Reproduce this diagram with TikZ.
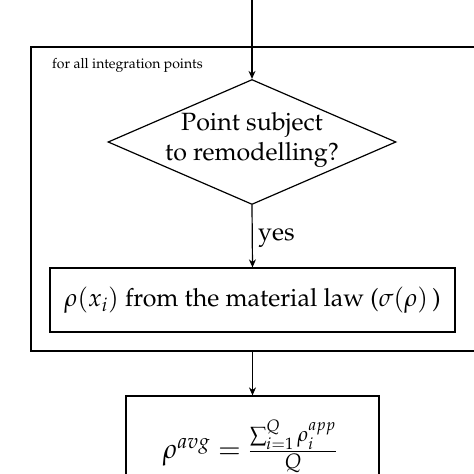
\documentclass[tikz,border=0pt]{standalone}
\usepackage[T1]{fontenc}
\usepackage{mathpazo}
\usetikzlibrary{shapes.geometric,arrows.meta,calc}
\tikzset{
  flowline/.style={line width=1.2pt},
  flowarrow/.style={flowline,-{Stealth[length=8pt,width=7pt]}},
  boxnode/.style={draw,flowline,rectangle,inner sep=0pt},
  bigtext/.style={font=\fontsize{25}{30}\selectfont},
  formulatext/.style={font=\fontsize{27.5}{33}\selectfont},
  smalltext/.style={font=\fontsize{14}{17}\selectfont},
}
\begin{document}
\begin{tikzpicture}[x=1pt,y=1pt]
\useasboundingbox (0,0) rectangle (474,474);
\begin{scope}
\clip (0,0) rectangle (474,474);
\coordinate (top) at (252,480);
\node[boxnode,minimum width=459pt,minimum height=304pt] (outer) at (260.5,275) {};
\node[smalltext,anchor=base west,inner sep=0pt] (lab) at (52,405) {for all integration points};
\node[diamond,draw,flowline,shape aspect=2.3,minimum width=288pt,minimum height=125pt,inner sep=0pt] (dia) at (252,332) {};
\node[bigtext,align=center,inner sep=0pt] (diatext) at (252,334) {Point subject\\to remodelling?};
\node[boxnode,bigtext,minimum width=405pt,minimum height=64pt] (law) at (252.5,174) {$\rho(x_i)$ from the material law ($\sigma(\rho)$\,)};
\node[boxnode,minimum width=253pt,minimum height=110pt] (avg) at (252.5,23) {};
\node[formulatext,inner sep=0pt] (formula) at (250,28) {$\rho^{avg} = \frac{\sum_{i=1}^{Q}\rho_i^{app}}{Q}$};
\draw[flowarrow] (top) -- (dia.north);
\draw[flowarrow] (dia.south) -- node[bigtext,right=2pt,pos=0.52] (yes) {yes} (law.north);
\draw[flowarrow] (avg.north |- outer.south) -- (avg.north);
\end{scope}
\end{tikzpicture}
\end{document}
